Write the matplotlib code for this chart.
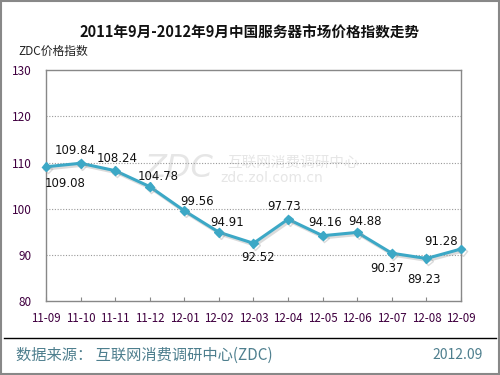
import matplotlib
matplotlib.use("Agg")
import matplotlib.pyplot as plt
import matplotlib.patheffects as pe
from matplotlib.patches import Rectangle

plt.rcParams['font.family'] = ['Noto Sans CJK SC', 'DejaVu Sans']

months = ["11-09", "11-10", "11-11", "11-12", "12-01", "12-02", "12-03",
          "12-04", "12-05", "12-06", "12-07", "12-08", "12-09"]
values = [109.08, 109.84, 108.24, 104.78, 99.56, 94.91, 92.52,
          97.73, 94.16, 94.88, 90.37, 89.23, 91.28]
y_ticks = [80, 90, 100, 110, 120, 130]

# label offsets in pixels (style, not data)
label_dx = [19, -5, 2, 8, 13, 8, 5, -4, 2, 8, -5, -2, -20]
label_dy = [-17, 13, 12, 10, 9, 10, -14, 13, 13, 11, -15, -21, 8]

fig = plt.figure(figsize=(5, 3.75), dpi=100)
ax = fig.add_axes([0.092, 0.197, 0.83, 0.616])

x = list(range(len(months)))
line_color = "#3ca8c6"
ax.plot(x, values, color=line_color, lw=2.2, marker="D", ms=4.5,
        mfc=line_color, mec=line_color, zorder=5, clip_on=False,
        path_effects=[pe.SimpleLineShadow(offset=(1.2, -1.5), shadow_color="#999999", alpha=0.35),
                      pe.Normal()])

for xi, v, dx, dy in zip(x, values, label_dx, label_dy):
    ax.annotate(f"{v:.2f}", (xi, v), xytext=(dx, dy), textcoords="offset pixels",
                ha="center", va="center", fontsize=8.5, color="#111111",
                family=["DejaVu Sans"], zorder=6)

ax.set_xlim(0, 12)
ax.set_ylim(80, 130)
ax.set_xticks(x)
ax.set_xticklabels(months, fontsize=8.3, color="#400040")
ax.set_yticks(y_ticks)
ax.set_yticklabels([str(t) for t in y_ticks], fontsize=8.5, color="#400040")
ax.tick_params(axis="x", direction="in", length=3, color="#888888", pad=8)
ax.tick_params(axis="y", length=0, pad=10)
for s in ax.spines.values():
    s.set_color("#888888")
    s.set_linewidth(1)
for t in [90, 100, 110, 120]:
    ax.axhline(t, color="#999999", lw=0.8, ls=(0, (1, 1.5)), zorder=1)

# watermark
ax.text(3.85, 108.6, "ZDC", fontsize=23, color="#e6e6e6", ha="center", va="center",
        family=["DejaVu Sans"], zorder=0, style="italic")
ax.text(7.14, 109.9, "互联网消费调研中心", fontsize=10.5, color="#e6e6e6", ha="center",
        va="center", zorder=0)
ax.text(6.54, 106.6, "zdc.zol.com.cn", fontsize=10, color="#e6e6e6", ha="center",
        va="center", zorder=0, family=["DejaVu Sans"])

fig.text(0.5, 0.912, "2011年9月-2012年9月中国服务器市场价格指数走势", ha="center",
         va="center", fontsize=10.5, fontweight="bold", color="#111111")
fig.text(0.036, 0.862, "ZDC价格指数", ha="left", va="center", fontsize=8.5, color="#222222")

fig.add_artist(plt.Line2D([0.008, 0.992], [1 - 338 / 375, 1 - 338 / 375],
                          color="black", lw=1, transform=fig.transFigure))
fig.text(0.032, 1 - 355 / 375, "数据来源： 互联网消费调研中心(ZDC)", ha="left", va="center",
         fontsize=11, color="#4e7f8e")
fig.text(0.966, 1 - 355 / 375, "2012.09", ha="right", va="center",
         fontsize=10, color="#4e7f8e")

fig.add_artist(Rectangle((0.002, 0.003), 0.996, 0.994, transform=fig.transFigure,
                         fill=False, edgecolor="#888888", lw=1.5))

fig.savefig("out.png", dpi=100)
